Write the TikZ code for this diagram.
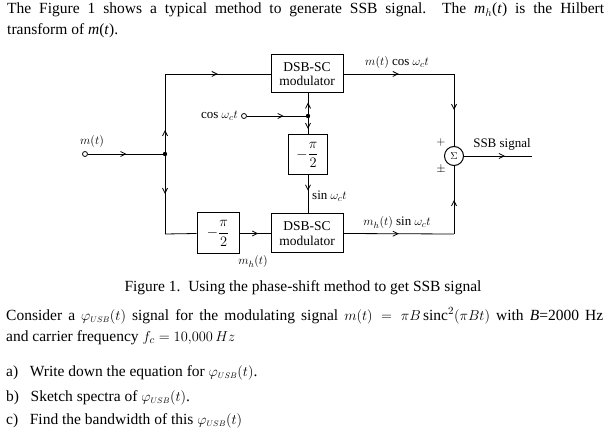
\documentclass[tikz,border=0pt]{standalone}
\usepackage{amsmath}
\usepackage{fontspec}
\setmainfont{Liberation Serif}
\usetikzlibrary{decorations.markings,arrows.meta}
\begin{document}
\begin{tikzpicture}[x=1pt,y=-1pt,
  blk/.style={draw,line width=1pt,inner sep=0pt,font=\fontsize{13.5}{14.5}\selectfont,align=center},
  ln/.style={line width=0.8pt},
  mid/.style={ln,postaction={decorate},decoration={markings,mark=at position #1 with {\arrow{Straight Barb[length=5pt,width=5pt]}}}},
  mid/.default=0.5,
  lab/.style={font=\fontsize{13}{14}\selectfont,inner sep=1pt},
  txt/.style={font=\fontsize{15.5}{21}\selectfont,inner sep=0pt,anchor=north west}]
\useasboundingbox (0,0) rectangle (610,435);
\fill[white] (0,0) rectangle (610,435);
% text
\node[txt,text width=597pt,align=justify] (t1) at (7,3) {The Figure 1 shows a typical method to generate SSB signal.\ \ The \textit{m}$_{h}$(\textit{t}) is the Hilbert\linebreak transform of \textit{m}(\textit{t}).};
% nodes
\node[blk,minimum width=72pt,minimum height=38pt] (d1) at (307,74) {DSB-SC\\modulator};
\node[blk,minimum width=72pt,minimum height=39pt] (d2) at (307,233.5) {DSB-SC\\modulator};
\node[blk,minimum width=39pt,minimum height=40pt] (p1) at (307.5,155) {$-\dfrac{\pi}{2}$};
\node[blk,minimum width=42pt,minimum height=41pt] (p2) at (218,233.5) {$-\dfrac{\pi}{2}$};
\node[draw,circle,line width=1pt,minimum size=19pt,inner sep=0pt] (s) at (454,156) {$\Sigma$};
\node[draw,circle,ln,minimum size=5pt,inner sep=0pt] (min) at (85,154) {};
\node[draw,circle,ln,minimum size=5pt,inner sep=0pt] (cin) at (244,116) {};
\fill (165,154) circle (2.2pt) coordinate (j1);
\fill (308,116) circle (2.2pt) coordinate (j2);
\coordinate (tl) at (165,74);
\coordinate (bl) at (165,234);
\coordinate (tr) at (454,74);
\coordinate (br) at (454,234);
\coordinate (out) at (532,156);
% connectors
\draw[mid] (min) -- (j1);
\draw[mid=0.3] (j1) -- (tl);
\draw[mid] (tl) -- (d1.west);
\draw[mid=0.5] (j1) -- (bl);
\draw[ln] (bl) -- (p2.west);
\draw[mid=0.6] (p2.east) -- (d2.west);
\draw[mid=0.6] (cin) -- (j2);
\draw[mid=0.6] (j2) -- (d1.south -| j2);
\draw[mid=0.7] (j2) -- (p1.north -| j2);
\draw[mid=0.4] (p1.south -| j2) -- (d2.north -| j2);
\draw[mid=0.5] (d1.east) -- (tr);
\draw[mid=0.5] (tr) -- (s);
\draw[mid=0.5] (d2.east) -- (br);
\draw[mid=0.5] (br) -- (s);
\draw[mid=0.6] (s) -- (out);
% labels
\node[lab] at (92,142) {$m(t)$};
\node[lab,anchor=east] at (239,116) {cos $\omega_c t$};
\node[lab] at (397,63) {$m(t)$ cos $\omega_c t$};
\node[lab] at (397,223) {$m_h(t)$ sin $\omega_c t$};
\node[lab,anchor=west] at (311,196) {sin $\omega_c t$};
\node[lab] at (253,262) {$m_h(t)$};
\node[lab] at (502,144) {SSB signal};
\node[lab] at (441,143) {$+$};
\node[lab] at (441,170) {$\pm$};
% caption and question
\node[txt,anchor=center] (cap) at (303,288) {Figure 1.\ \ Using the phase-shift method to get SSB signal};
\node[txt,text width=597pt,align=justify] (q) at (6,307) {Consider a $\varphi_{\scriptscriptstyle USB}(t)$ signal for the modulating signal $m(t)=\pi B\,\mathrm{sinc}^2(\pi Bt)$ with \textit{B}=2000 Hz\linebreak and carrier frequency $f_c=10{,}000\,Hz$};
\node[txt] (a) at (6,365) {a)\ \ \ Write down the equation for $\varphi_{\scriptscriptstyle USB}(t)$.};
\node[txt] (b) at (6,390) {b)\ \ \ Sketch spectra of $\varphi_{\scriptscriptstyle USB}(t)$.};
\node[txt] (c) at (6,413) {c)\ \ \ Find the bandwidth of this $\varphi_{\scriptscriptstyle USB}(t)$};
\end{tikzpicture}
\end{document}
